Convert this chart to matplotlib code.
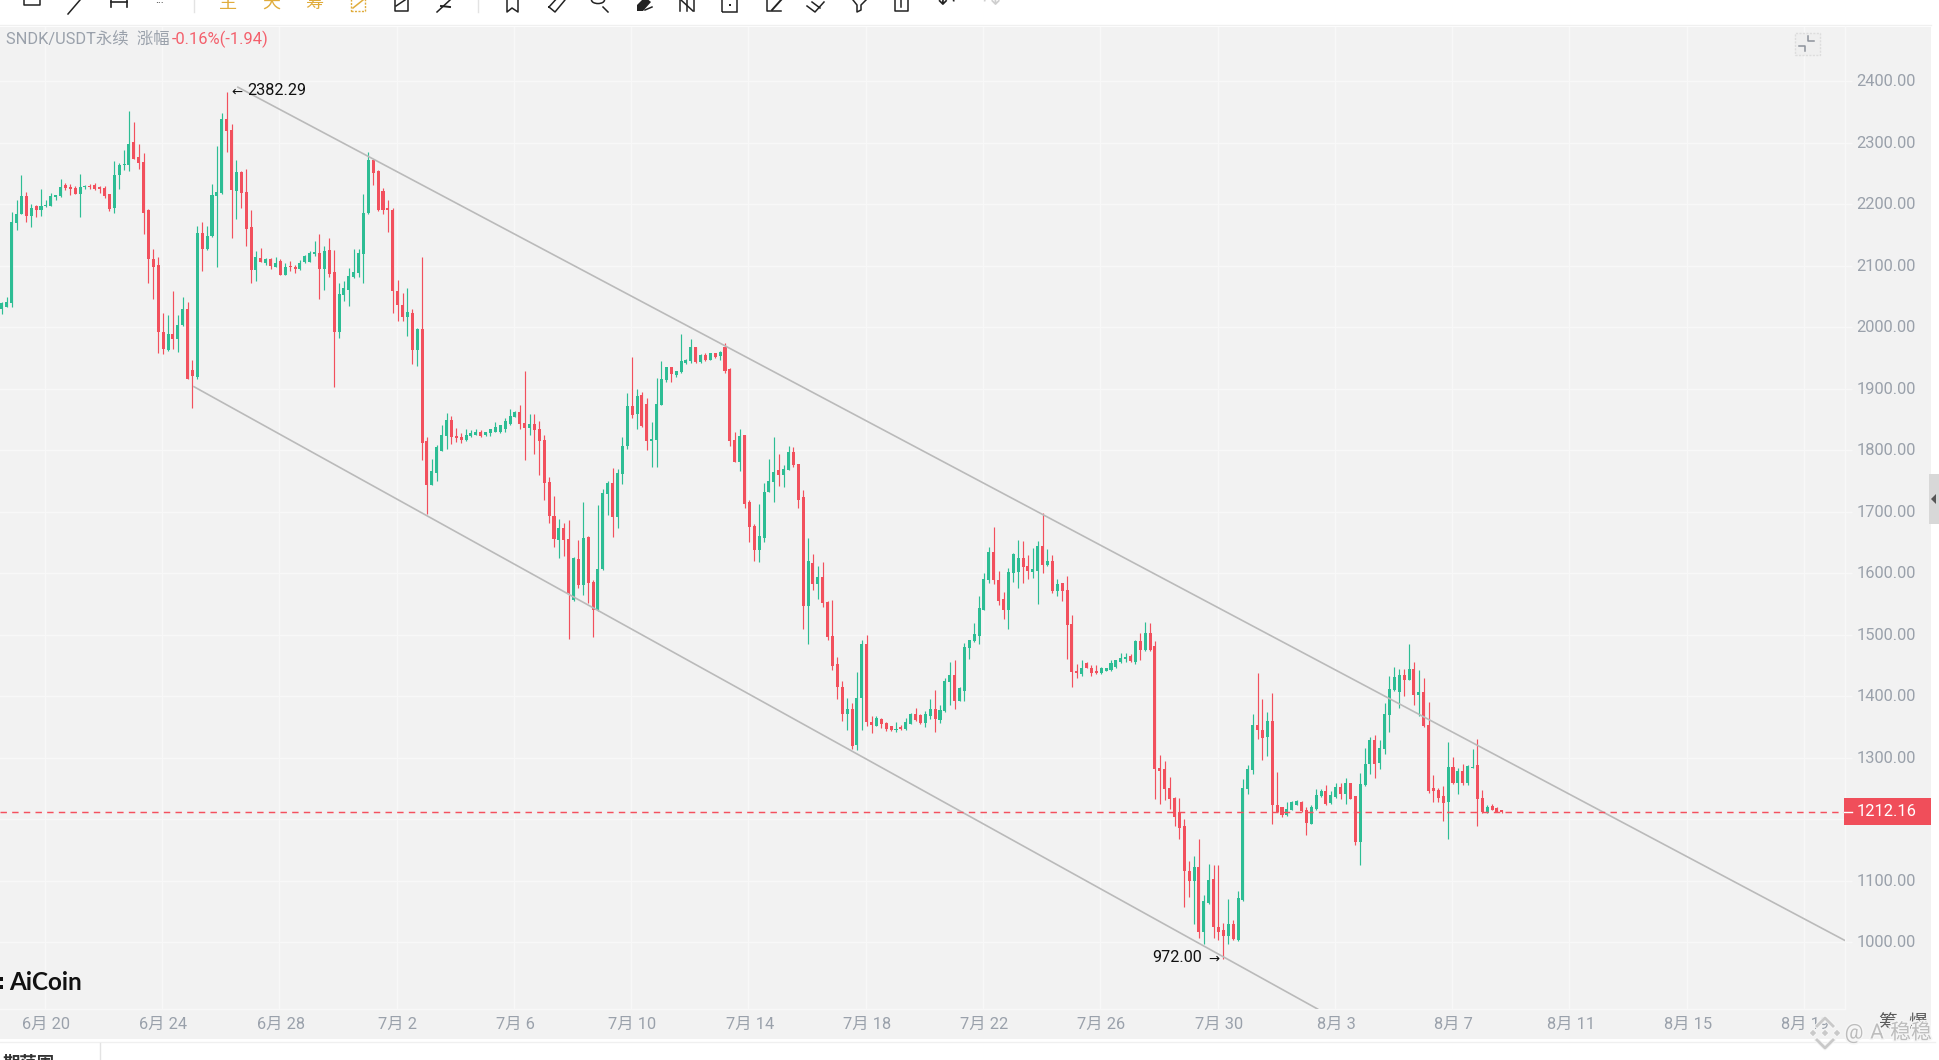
import matplotlib
matplotlib.use("Agg")
import matplotlib.pyplot as plt
import matplotlib.patheffects as pe
from matplotlib.lines import Line2D
from matplotlib.patches import Circle, Polygon, Rectangle
from matplotlib.transforms import ScaledTranslation

plt.rcParams["font.family"] = ["Roboto", "Noto Sans CJK SC", "DejaVu Sans"]

W, H = 1939, 1060

# 4h candles
opens = [
    2030, 2033, 2039, 2169, 2183, 2213, 2180, 2196, 2191, 2196,
    2197, 2211, 2213, 2231, 2228, 2226, 2217, 2227, 2230, 2231,
    2227, 2226, 2216, 2193, 2248, 2263, 2264, 2301, 2277, 2268,
    2190, 2111, 2101, 1992, 1963, 1988, 1980, 2003, 2030, 1930,
    1918, 2153, 2127, 2148, 2213, 2218, 2338, 2320, 2221, 2252,
    2219, 2162, 2092, 2113, 2104, 2111, 2098, 2108, 2084, 2100,
    2098, 2095, 2105, 2106, 2119, 2120, 2094, 2125, 2090, 1992,
    2052, 2061, 2081, 2088, 2119, 2185, 2271, 2254, 2221, 2193,
    2191, 2059, 2036, 2017, 2022, 1963, 1997, 1814, 1743, 1763,
    1799, 1823, 1849, 1823, 1821, 1816, 1823, 1825, 1830, 1825,
    1827, 1830, 1829, 1835, 1843, 1854, 1862, 1844, 1836, 1843,
    1834, 1816, 1748, 1693, 1654, 1673, 1656, 1556, 1623, 1581,
    1659, 1586, 1540, 1606, 1728, 1746, 1691, 1761, 1806, 1872,
    1858, 1889, 1875, 1814, 1816, 1874, 1914, 1935, 1922, 1927,
    1941, 1944, 1967, 1943, 1954, 1947, 1957, 1953, 1967, 1931,
    1816, 1781, 1824, 1716, 1677, 1637, 1657, 1731, 1748, 1768,
    1759, 1768, 1797, 1777, 1723, 1547, 1617, 1582, 1593, 1553,
    1498, 1452, 1415, 1370, 1379, 1320, 1396, 1484, 1358, 1352,
    1363, 1356, 1351, 1344, 1350, 1346, 1354, 1370, 1369, 1356,
    1368, 1379, 1361, 1375, 1423, 1434, 1392, 1408, 1478, 1489,
    1498, 1540, 1589, 1634, 1589, 1558, 1540, 1600, 1602, 1625,
    1611, 1602, 1604, 1644, 1613, 1619, 1571, 1583, 1572, 1517,
    1440, 1436, 1454, 1446, 1441, 1437, 1441, 1442, 1448, 1455,
    1461, 1465, 1456, 1489, 1475, 1502, 1482, 1283, 1282, 1250,
    1234, 1212, 1189, 1116, 1099, 1122, 1017, 1064, 1102, 1024,
    1019, 1010, 1030, 1004, 1069, 1249, 1279, 1353, 1345, 1333,
    1360, 1223, 1219, 1206, 1215, 1223, 1228, 1214, 1192, 1217,
    1237, 1246, 1226, 1236, 1252, 1240, 1258, 1237, 1162, 1255,
    1289, 1329, 1291, 1314, 1369, 1409, 1407, 1434, 1426, 1444,
    1402, 1407, 1353, 1250, 1248, 1237, 1227, 1285, 1258, 1278,
    1258, 1283, 1288, 1234, 1210, 1221, 1218, 1214,
]
highs = [
    2041, 2049, 2187, 2207, 2248, 2219, 2200, 2199, 2224, 2207,
    2218, 2215, 2240, 2234, 2233, 2230, 2249, 2231, 2232, 2234,
    2230, 2230, 2216, 2270, 2267, 2288, 2352, 2333, 2298, 2283,
    2192, 2127, 2114, 2022, 2019, 2058, 2020, 2049, 2041, 1947,
    2165, 2170, 2165, 2232, 2295, 2348, 2382.29, 2330, 2272, 2253,
    2257, 2190, 2123, 2128, 2112, 2112, 2114, 2111, 2104, 2108,
    2101, 2109, 2117, 2123, 2140, 2151, 2132, 2144, 2125, 2071,
    2075, 2096, 2127, 2127, 2216, 2284, 2274, 2255, 2226, 2207,
    2193, 2077, 2056, 2063, 2029, 1998, 2114, 1821, 1786, 1808,
    1840, 1860, 1855, 1836, 1827, 1834, 1833, 1834, 1832, 1829,
    1835, 1845, 1841, 1852, 1867, 1864, 1874, 1928, 1859, 1859,
    1848, 1824, 1756, 1725, 1688, 1681, 1686, 1626, 1654, 1716,
    1660, 1588, 1710, 1737, 1749, 1770, 1769, 1821, 1892, 1952,
    1899, 1894, 1884, 1845, 1917, 1944, 1935, 1935, 1929, 1989,
    1948, 1980, 1967, 1956, 1957, 1957, 1958, 1961, 1974, 1933,
    1829, 1835, 1825, 1718, 1680, 1713, 1747, 1785, 1821, 1793,
    1775, 1807, 1805, 1777, 1735, 1657, 1631, 1611, 1618, 1555,
    1556, 1463, 1424, 1396, 1388, 1439, 1491, 1500, 1367, 1367,
    1364, 1358, 1351, 1357, 1353, 1364, 1373, 1380, 1371, 1375,
    1395, 1409, 1385, 1429, 1455, 1458, 1414, 1487, 1491, 1518,
    1563, 1600, 1642, 1675, 1604, 1569, 1608, 1632, 1654, 1652,
    1629, 1640, 1652, 1697, 1639, 1630, 1590, 1584, 1595, 1531,
    1452, 1458, 1455, 1450, 1450, 1448, 1445, 1458, 1459, 1470,
    1470, 1469, 1491, 1503, 1521, 1518, 1490, 1304, 1295, 1269,
    1236, 1234, 1200, 1132, 1140, 1168, 1077, 1127, 1126, 1126,
    1031, 1070, 1036, 1083, 1265, 1288, 1371, 1437, 1395, 1374,
    1405, 1277, 1220, 1228, 1229, 1231, 1229, 1219, 1223, 1249,
    1249, 1256, 1245, 1259, 1258, 1267, 1259, 1238, 1275, 1316,
    1333, 1336, 1328, 1389, 1433, 1448, 1444, 1444, 1485, 1455,
    1442, 1430, 1391, 1271, 1251, 1254, 1325, 1301, 1283, 1290,
    1288, 1314, 1330, 1247, 1222, 1224, 1219, 1215,
]
lows = [
    2021, 2032, 2032, 2157, 2183, 2171, 2163, 2179, 2181, 2195,
    2197, 2207, 2212, 2223, 2214, 2217, 2179, 2225, 2224, 2223,
    2218, 2210, 2188, 2186, 2225, 2255, 2254, 2273, 2257, 2152,
    2071, 2046, 1957, 1956, 1961, 1964, 1960, 2001, 1915, 1869,
    1915, 2091, 2126, 2147, 2097, 2217, 2284, 2144, 2175, 2194,
    2131, 2071, 2075, 2105, 2101, 2094, 2097, 2084, 2084, 2091,
    2088, 2093, 2104, 2105, 2116, 2045, 2061, 2082, 1903, 1982,
    2042, 2034, 2080, 2081, 2072, 2184, 2231, 2188, 2184, 2154,
    2023, 2009, 2010, 1985, 1940, 1936, 1784, 1696, 1743, 1750,
    1798, 1801, 1810, 1813, 1811, 1815, 1821, 1824, 1821, 1823,
    1822, 1829, 1828, 1830, 1841, 1853, 1835, 1783, 1824, 1794,
    1760, 1719, 1681, 1642, 1624, 1628, 1492, 1555, 1575, 1564,
    1552, 1496, 1539, 1605, 1695, 1659, 1674, 1745, 1802, 1852,
    1835, 1838, 1800, 1772, 1773, 1873, 1910, 1911, 1918, 1926,
    1940, 1942, 1942, 1942, 1944, 1946, 1950, 1946, 1925, 1807,
    1780, 1766, 1705, 1651, 1620, 1618, 1650, 1731, 1715, 1742,
    1740, 1767, 1773, 1705, 1509, 1484, 1573, 1558, 1545, 1491,
    1442, 1395, 1359, 1345, 1314, 1312, 1345, 1351, 1340, 1351,
    1348, 1343, 1343, 1342, 1345, 1345, 1354, 1359, 1354, 1350,
    1362, 1342, 1356, 1374, 1386, 1379, 1392, 1392, 1460, 1488,
    1485, 1540, 1583, 1582, 1548, 1525, 1509, 1585, 1576, 1584,
    1590, 1592, 1550, 1600, 1611, 1567, 1562, 1555, 1460, 1414,
    1430, 1432, 1445, 1433, 1436, 1436, 1440, 1441, 1446, 1454,
    1456, 1456, 1452, 1458, 1474, 1473, 1233, 1225, 1231, 1217,
    1188, 1168, 1057, 1073, 1029, 1007, 996, 1062, 1007, 1003,
    972.00, 997, 1004, 1001, 1066, 1240, 1273, 1330, 1296, 1303,
    1192, 1211, 1203, 1205, 1214, 1222, 1212, 1174, 1192, 1214,
    1236, 1223, 1225, 1234, 1233, 1225, 1232, 1158, 1125, 1254,
    1274, 1267, 1282, 1306, 1341, 1408, 1380, 1400, 1426, 1386,
    1368, 1349, 1242, 1227, 1227, 1196, 1168, 1257, 1241, 1255,
    1256, 1283, 1188, 1210, 1209, 1214, 1211, 1210,
]
closes = [
    2039, 2041, 2171, 2184, 2213, 2180, 2193, 2190, 2197, 2199,
    2213, 2215, 2228, 2226, 2224, 2217, 2227, 2230, 2227, 2225,
    2225, 2213, 2192, 2248, 2264, 2265, 2298, 2274, 2266, 2186,
    2110, 2098, 1992, 1965, 1988, 1980, 2004, 2030, 1916, 1920,
    2153, 2127, 2148, 2215, 2219, 2338, 2319, 2222, 2252, 2218,
    2160, 2092, 2114, 2105, 2111, 2099, 2104, 2084, 2098, 2097,
    2095, 2104, 2116, 2121, 2122, 2094, 2124, 2087, 1992, 2054,
    2063, 2083, 2090, 2120, 2185, 2272, 2250, 2190, 2191, 2190,
    2058, 2036, 2017, 2024, 1963, 1997, 1812, 1743, 1766, 1805,
    1825, 1849, 1821, 1819, 1817, 1825, 1827, 1829, 1822, 1829,
    1834, 1838, 1840, 1848, 1855, 1862, 1842, 1836, 1842, 1832,
    1814, 1746, 1692, 1655, 1673, 1654, 1567, 1624, 1581, 1657,
    1583, 1540, 1607, 1730, 1746, 1691, 1763, 1807, 1871, 1857,
    1888, 1839, 1814, 1818, 1875, 1915, 1935, 1924, 1929, 1944,
    1946, 1967, 1943, 1955, 1947, 1957, 1952, 1960, 1928, 1814,
    1781, 1823, 1713, 1675, 1637, 1660, 1732, 1750, 1765, 1759,
    1769, 1797, 1775, 1719, 1547, 1620, 1582, 1594, 1551, 1496,
    1449, 1414, 1371, 1379, 1318, 1397, 1484, 1357, 1353, 1364,
    1354, 1347, 1344, 1347, 1346, 1357, 1371, 1361, 1356, 1370,
    1379, 1362, 1377, 1425, 1434, 1392, 1413, 1480, 1491, 1501,
    1543, 1590, 1634, 1589, 1555, 1540, 1601, 1631, 1625, 1609,
    1603, 1607, 1644, 1613, 1619, 1571, 1582, 1571, 1516, 1439,
    1437, 1446, 1445, 1437, 1437, 1446, 1445, 1454, 1458, 1462,
    1464, 1457, 1490, 1475, 1502, 1475, 1282, 1278, 1249, 1233,
    1203, 1186, 1115, 1099, 1122, 1017, 1066, 1101, 1024, 1016,
    1010, 1030, 1005, 1072, 1250, 1282, 1353, 1344, 1332, 1360,
    1222, 1212, 1207, 1216, 1228, 1229, 1213, 1193, 1219, 1239,
    1245, 1225, 1239, 1252, 1241, 1258, 1233, 1162, 1257, 1289,
    1329, 1290, 1315, 1370, 1411, 1431, 1434, 1426, 1444, 1402,
    1407, 1352, 1245, 1246, 1234, 1226, 1285, 1258, 1278, 1258,
    1286, 1285, 1233, 1211, 1220, 1215, 1211, 1212.16,
]

date_labels = ["6月 20", "6月 24", "6月 28", "7月 2", "7月 6", "7月 10", "7月 14", "7月 18",
               "7月 22", "7月 26", "7月 30", "8月 3", "8月 7", "8月 11", "8月 15", "8月 19"]
price_ticks = [1000, 1100, 1200, 1300, 1400, 1500, 1600, 1700, 1800, 1900, 2000, 2100, 2200, 2300, 2400]
last_price = 1212.16
peak = 2382.29
trough = 972.00
# channel end points: candle index, price
upper_x, upper_y = [48.3, 377.1], [2390, 1003]
lower_x, lower_y = [39.3, 269.3], [1903, 891]

GREEN = "#2dbd94"
RED = "#f2505d"
GRID = "#f8f8f8"
PANEL = "#f2f2f2"
LABEL = "#9aa1ab"
ORANGE = "#e0ac3c"
INK = "#222222"


def fx(px):
    return px / W


def fy(py):
    return 1 - py / H


def fig_line(xs, ys, color=INK, lw=1.1, **kw):
    fig.add_artist(Line2D([fx(v) for v in xs], [fy(v) for v in ys], color=color, lw=lw, **kw))


def fig_rect(x0, y0, x1, y1, **kw):
    fig.add_artist(Rectangle((fx(x0), fy(y1)), (x1 - x0) / W, (y1 - y0) / H,
                             transform=fig.transFigure, **kw))


def fig_poly(points, **kw):
    fig.add_artist(Polygon([(fx(a), fy(b)) for a, b in points], closed=True, transform=fig.transFigure, **kw))


fig = plt.figure(figsize=(W / 100, H / 100), dpi=100, facecolor="white")

# grey panel behind the chart and the time strip
fig_rect(0, 26.6, 1931, 1039, facecolor=PANEL, edgecolor="none", zorder=-5)
fig_line([0, 1931], [25, 25], color="#f0f0f0", lw=1)
fig_line([0, 1935], [1042, 1042], color="#f0f0f0", lw=1)
fig_line([99.5, 99.5], [1043, 1060], color="#e3e3e3", lw=1)

ax = fig.add_axes([0, fy(1009), 1844.6 / W, (1009 - 26.6) / H])
ax.patch.set_alpha(0)
ax.set_xlim(-0.39, 377.15)
ax.set_ylim(891.1, 2488.5)

idx = range(len(opens))
colors = [GREEN if c >= o else RED for o, c in zip(opens, closes)]
ax.vlines(idx, lows, highs, colors=colors, lw=0.85, zorder=3)
ax.bar(idx, [abs(c - o) for o, c in zip(opens, closes)], bottom=[min(o, c) for o, c in zip(opens, closes)],
       width=0.62, color=colors, linewidth=0, zorder=3)

ax.plot(upper_x, upper_y, color="#bababa", lw=1.2, zorder=4)
ax.plot(lower_x, lower_y, color="#bababa", lw=1.2, zorder=4)
ax.axhline(last_price, color="#f4505e", lw=1.05, linestyle=(0, (4.4, 3.6)), zorder=4)

ax.set_yticks(price_ticks)
ax.set_yticklabels([f"{v:.2f}" for v in price_ticks], fontsize=11.9, color=LABEL)
ax.yaxis.tick_right()
ax.set_xticks([8.8 + 24 * i for i in range(len(date_labels))])
ax.set_xticklabels(date_labels, fontsize=11.8, color=LABEL)
ax.tick_params(axis="y", length=5.3, pad=3.4, color=GRID, width=1)
ax.tick_params(axis="x", length=0, pad=6)
ax.grid(True, color=GRID, lw=1)
ax.set_axisbelow(True)
for side in ["top", "left"]:
    ax.spines[side].set_visible(False)
for side in ["right", "bottom"]:
    ax.spines[side].set_color(GRID)
    ax.spines[side].set_linewidth(1)
for label in ax.get_xticklabels():
    label.set_transform(label.get_transform() + ScaledTranslation(1.3 / 100, 0, fig.dpi_scale_trans))
for label in ax.get_yticklabels():
    label.set_transform(label.get_transform() + ScaledTranslation(0, 0.8 / 100, fig.dpi_scale_trans))

# high / low notes
ax.annotate("←", xy=(46, peak), xytext=(3.6, 0), textcoords="offset points", fontsize=9.5,
            family="DejaVu Sans", color="#111111", va="center", ha="left", zorder=6)
ax.annotate(f"{peak:.2f}", xy=(46, peak), xytext=(14.6, 1), textcoords="offset points",
            fontsize=11.7, color="#111111", va="center", ha="left", zorder=6)
ax.annotate("→", xy=(250, trough), xytext=(-3.2, 0), textcoords="offset points", fontsize=9.5,
            family="DejaVu Sans", color="#111111", va="center", ha="right", zorder=6)
ax.annotate(f"{trough:.2f}", xy=(250, trough), xytext=(-15.4, 1), textcoords="offset points",
            fontsize=11.7, color="#111111", va="center", ha="right", zorder=6)

# last price tag
fig_rect(1843.6, 798, 1931, 825, facecolor="#f04e5a", edgecolor="none", zorder=5)
fig_line([1844, 1852], [812, 812], color="white", lw=1, zorder=6)
fig.text(fx(1857), fy(811), f"{last_price:.2f}", fontsize=11.9, color="white", va="center", ha="left", zorder=6)

# header line
fig.text(fx(6), fy(39), "SNDK/USDT永续  涨幅", fontsize=11.8, color=LABEL, va="center", ha="left")
fig.text(fx(172), fy(39), "-0.16%(-1.94)", fontsize=11.9, color="#f4606c", va="center", ha="left")

# logo, strip leftovers
fig.text(fx(9.5), fy(983), "AiCoin", fontsize=17.5, fontweight="bold", family=["Lato", "DejaVu Sans"],
         color="#111111", va="center", ha="left")
fig_rect(0, 977, 2.5, 980.5, facecolor="#111111", edgecolor="none")
fig_rect(0, 985, 2.5, 988.5, facecolor="#111111", edgecolor="none")
fig.text(fx(3), fy(1054), "期范围", fontsize=12.5, fontweight="bold", color="#333333", va="top", ha="left")
fig.text(fx(1888), fy(1023), "筹", fontsize=13.5, color="#5a5a5a", va="center", ha="center")
fig.text(fx(1918), fy(1023), "爆", fontsize=13.5, color="#5a5a5a", va="center", ha="center")

# top toolbar, only the lower edge of the icons is inside the picture
for x, s in [(228, "主"), (271, "天"), (314, "筹")]:
    fig.text(fx(x), fy(3), s, fontsize=13, color=ORANGE, va="center", ha="center")
fig_rect(351, -4, 365, 11, facecolor="none", edgecolor=ORANGE, linestyle=(0, (1.5, 1)), lw=1)
fig_line([353, 363], [8, 0], color=ORANGE)
fig_line([24, 24, 40, 40], [0, 5, 5, 0])
fig_line([68, 80], [14, 0])
fig_line([111, 111], [0, 7], lw=1.2)
fig_line([127, 127], [0, 7], lw=1.2)
fig_line([111, 127], [2, 2], lw=1.2)
fig.text(fx(160), fy(3), "···", fontsize=8, color=INK, va="center", ha="center")
for x in [194, 478]:
    fig_line([x, x], [0, 12], color="#e3e3e3", lw=1)
# doc + arrows
fig_line([395, 395, 408, 408], [0, 11, 11, 0])
fig_line([396, 405], [6, 0])
fig_line([437, 450], [12, 0])
fig_line([441, 450], [6, 7], lw=1.4)
# bookmark
fig_line([507, 507, 512, 518, 518], [0, 12, 8, 12, 0])
# ruler
fig_line([549, 555, 565, 559, 549], [7, 12, 0, -4, 7])
# magnifier
fig.add_artist(Circle((fx(598), fy(0)), 6.5 / W, transform=fig.transFigure, facecolor="none", edgecolor=INK, lw=1.1))
fig_line([603, 608], [7, 12])
# filled pen
fig_poly([(637, 5), (645, -3), (651, 2), (643, 11), (637, 11)], facecolor=INK, edgecolor="none")
fig_line([645, 652], [10, 7])
# striped box, dotted box, note, magnet, funnel, bin
fig_line([680, 680], [0, 11])
fig_line([694, 694], [0, 11])
fig_line([687, 687], [0, 11])
fig_line([681, 693], [0, 11])
fig_rect(722, -3, 737, 12, facecolor="none", edgecolor=INK, lw=1.1)
fig_rect(728.5, 4, 730.5, 6, facecolor=INK, edgecolor="none")
fig_line([767, 767, 781], [0, 11, 11])
fig_line([772, 781], [10, 0], lw=1.4)
fig_line([807, 815, 824], [6, 12, 2])
fig_line([812, 820], [2, 8])
fig_line([853, 857, 857, 861, 861, 866], [0, 5, 12, 10, 5, 0])
fig_line([895, 895, 908, 908], [0, 11, 11, 0])
fig_line([901, 901], [0, 7])
fig.text(fx(946), fy(2), "↶", fontsize=15, color=INK, va="center", ha="center", family="DejaVu Sans")
fig.text(fx(991), fy(2), "↷", fontsize=15, color="#cfcfcf", va="center", ha="center", family="DejaVu Sans")

# collapse button top right
fig_rect(1795, 33, 1820, 55, facecolor="#efefef", edgecolor="#dddddd", lw=1, linestyle=(0, (1.5, 1)))
fig_line([1808, 1808, 1814], [36, 41, 41], color="#8d929b")
fig_line([1799, 1805, 1805], [46, 46, 51], color="#8d929b")

# side handle
fig_rect(1929, 474, 1939, 524, facecolor="#d8d8d8", edgecolor="none", zorder=6)
fig_poly([(1931, 499), (1936, 494), (1936, 504)], facecolor="#555555", edgecolor="none", zorder=7)

# watermark
halo = [pe.withStroke(linewidth=2.2, foreground="#f6f6f6")]
mark = dict(color="#c9c9c9", lw=2, zorder=8, path_effects=[pe.withStroke(linewidth=3.4, foreground="#f6f6f6")])
fig_line([1817, 1825, 1833], [1026, 1018, 1026], **mark)
fig_line([1817, 1825, 1833], [1040, 1048, 1040], **mark)
for cx in [1813, 1825, 1837]:
    fig_poly([(cx, 1029), (cx + 4, 1033), (cx, 1037), (cx - 4, 1033)], facecolor="#c9c9c9", edgecolor="#f6f6f6",
             lw=0.8, zorder=8)
fig.text(fx(1854), fy(1033), "@", fontsize=15, color="#bdbdbd", va="center", ha="center", zorder=8, path_effects=halo)
fig.text(fx(1877), fy(1033), "A", fontsize=15, color="#bdbdbd", va="center", ha="center", zorder=8, path_effects=halo)
fig.text(fx(1911), fy(1033), "稳稳", fontsize=15, color="#bdbdbd", va="center", ha="center", zorder=8, path_effects=halo)

fig.savefig("out.png", dpi=100)
